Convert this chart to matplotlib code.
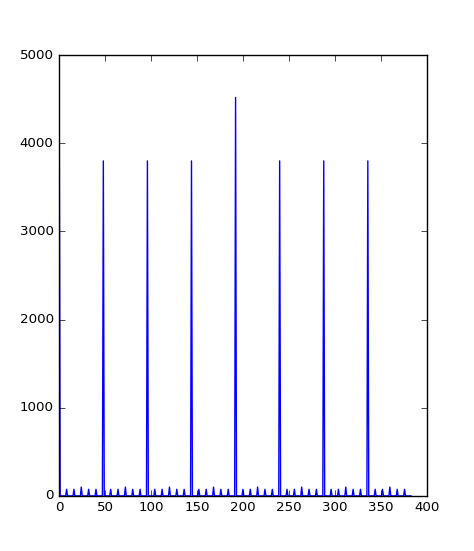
import numpy as np
import matplotlib
matplotlib.use("Agg")
import matplotlib.pyplot as plt

plt.style.use("classic")
plt.rcParams["font.size"] = 9.6

# spectrum length and the spikes
n_samples = 384
big_pos = [0, 48, 96, 144, 192, 240, 288, 336]
big_val = [4420, 3800, 3800, 3800, 4520, 3800, 3800, 3800]
small_pos = [8, 16, 24, 32, 40, 56, 64, 72, 80, 88, 104, 112, 120, 128, 136,
             152, 160, 168, 176, 184, 200, 208, 216, 224, 232, 248, 256, 264,
             272, 280, 296, 304, 312, 320, 328, 344, 352, 360, 368, 376]
small_val = [75, 75, 100, 75, 75, 75, 75, 100, 75, 75, 75, 75, 100, 75, 75,
             75, 75, 100, 75, 75, 75, 75, 100, 75, 75, 75, 75, 100,
             75, 75, 75, 75, 100, 75, 75, 75, 75, 100, 75, 75]

y = np.zeros(n_samples)
y[big_pos] = big_val
y[small_pos] = small_val

fig = plt.figure(figsize=(4.74, 5.51), dpi=100)
ax = fig.add_axes([0.125, 0.1, 0.775, 0.8])
ax.plot(np.arange(n_samples), y, color="b", linewidth=1.0)
ax.set_xlim(0, 400)
ax.set_ylim(0, 5000)
ax.set_xticks([0, 50, 100, 150, 200, 250, 300, 350, 400])
ax.set_yticks([0, 1000, 2000, 3000, 4000, 5000])

fig.savefig("out.png", dpi=100, facecolor="white")
